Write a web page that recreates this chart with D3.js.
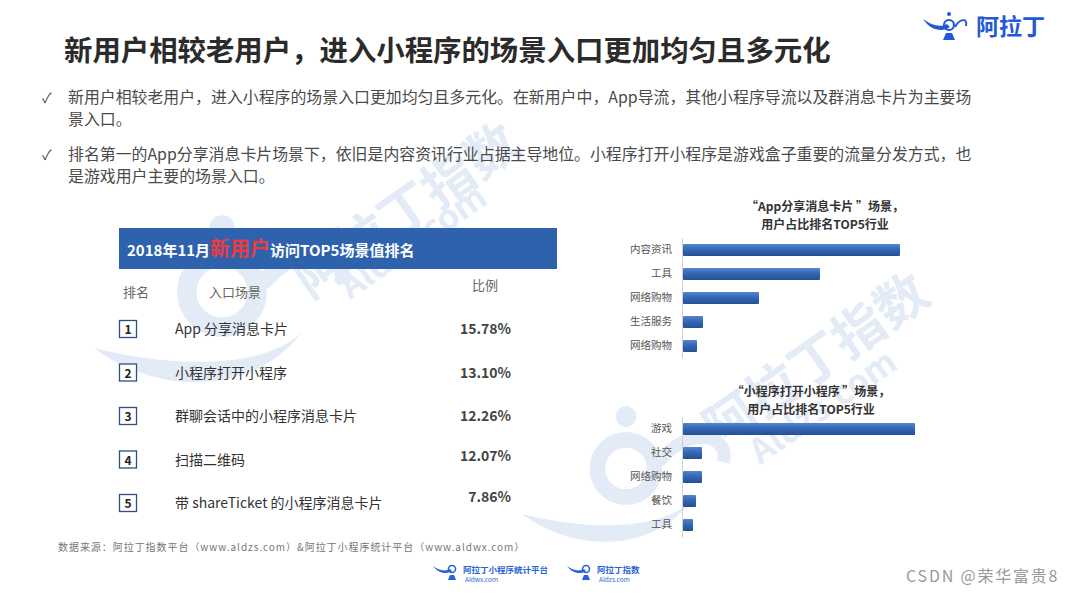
<!DOCTYPE html>
<html><head><meta charset="utf-8">
<script src="https://cdn.jsdelivr.net/npm/d3@7"></script>
<style>
html,body{margin:0;padding:0;background:#fff;}
svg{display:block;font-family:"Noto Sans CJK SC","Noto Sans",sans-serif;}
</style></head>
<body>
<svg id="c" width="1080" height="595"></svg>
<script>
// ---------- data ----------
const pageTitle = "新用户相较老用户，进入小程序的场景入口更加均匀且多元化";
const bulletLines = [
  ["新用户相较老用户，进入小程序的场景入口更加均匀且多元化。在新用户中，App导流，其他小程序导流以及群消息卡片为主要场", "景入口。"],
  ["排名第一的App分享消息卡片场景下，依旧是内容资讯行业占据主导地位。小程序打开小程序是游戏盒子重要的流量分发方式，也", "是游戏用户主要的场景入口。"]
];
const ranks = [1, 2, 3, 4, 5];
const scenes = ["App 分享消息卡片", "小程序打开小程序", "群聊会话中的小程序消息卡片", "扫描二维码", "带 shareTicket 的小程序消息卡片"];
const shares = ["15.78%", "13.10%", "12.26%", "12.07%", "7.86%"];

const chart1Title = ["“App分享消息卡片 ”场景，", "用户占比排名TOP5行业"];
const chart1Cats = ["内容资讯", "工具", "网络购物", "生活服务", "网络购物"];
const chart1Vals = [21.8, 13.8, 7.7, 2.1, 1.5];

const chart2Title = ["“小程序打开小程序 ”场景，", "用户占比排名TOP5行业"];
const chart2Cats = ["游戏", "社交", "网络购物", "餐饮", "工具"];
const chart2Vals = [23.3, 2.0, 2.0, 1.4, 1.1];

const sourceText = "数据来源：阿拉丁指数平台（www.aldzs.com）&阿拉丁小程序统计平台（www.aldwx.com）";

// ---------- drawing ----------
const svg = d3.select("#c");
const defs = svg.append("defs");
const g = defs.append("linearGradient").attr("id","barg").attr("x1",0).attr("y1",0).attr("x2",0).attr("y2",1);
g.append("stop").attr("offset","0%").attr("stop-color","#5585cf");
g.append("stop").attr("offset","45%").attr("stop-color","#3567b6");
g.append("stop").attr("offset","100%").attr("stop-color","#23508f");

// watermarks
const wmCol = "#e3ebf7";
const wm = svg.append("g").attr("fill",wmCol);
function swirl(x, y, s){
  const w = wm.append("g").attr("transform",`translate(${x},${y}) scale(${s})`);
  w.append("path").attr("d","M-60,30 C-20,60 40,60 70,20 C50,40 0,45 -60,30 Z");
  w.append("circle").attr("cx",20).attr("cy",-5).attr("r",22).attr("fill","none").attr("stroke",wmCol).attr("stroke-width",12);
  w.append("circle").attr("cx",20).attr("cy",-45).attr("r",8);
  w.append("path").attr("d","M45,-10 C70,-40 100,-30 95,-10").attr("fill","none").attr("stroke",wmCol).attr("stroke-width",10);
}
swirl(190, 300, 1.6);
swirl(600, 475, 1.3);
function wmText(x, y, t, size, rot){
  wm.append("text").attr("x",x).attr("y",y).attr("font-size",size).attr("font-weight","bold")
    .attr("transform",`rotate(${rot},${x},${y})`).text(t);
}
wmText(310, 300, "阿拉丁指数", 52, -35);
wmText(350, 300, "Aldzs.com", 34, -35);
wmText(720, 450, "阿拉丁指数", 52, -35);
wmText(760, 465, "Aldzs.com", 34, -35);

// title
svg.append("text").attr("x",64).attr("y",61).attr("font-size",28.4).attr("font-weight","bold")
  .attr("fill","#2b2b2b").text(pageTitle);

// top-right logo
const logo = svg.append("g").attr("fill","#2259d6");
logo.append("path").attr("d","M923,19 C930,30 942,33 950,27 L947,24 C940,28 931,25 923,19 Z");
logo.append("circle").attr("cx",949).attr("cy",25).attr("r",5).attr("fill","none").attr("stroke","#2259d6").attr("stroke-width",2.2);
logo.append("circle").attr("cx",949).attr("cy",14).attr("r",2);
logo.append("path").attr("d","M943,40 L955,40 L952,33 L946,33 Z");
logo.append("path").attr("d","M955,27 C960,18 968,18 966,26").attr("fill","none").attr("stroke","#2259d6").attr("stroke-width",2);
logo.append("text").attr("x",976).attr("y",35).attr("font-size",23).attr("font-weight","bold").text("阿拉丁");

// bullets
const bl = svg.append("g").attr("font-size",15.9).attr("fill","#4a4a4a");
const lineY = [[103,125],[160,182]];
bulletLines.forEach((lines,i)=>{
  bl.append("text").attr("x",42).attr("y",lineY[i][0]).attr("font-size",14).text("✓");
  lines.forEach((l,j)=>bl.append("text").attr("x",68).attr("y",lineY[i][j]).text(l));
});

// table header
svg.append("rect").attr("x",119).attr("y",228).attr("width",438).attr("height",41).attr("fill","#2f62ad");
const ht = svg.append("text").attr("x",127).attr("y",256).attr("font-weight","bold").attr("fill","#fff").attr("font-size",15);
ht.append("tspan").text("2018年11月");
ht.append("tspan").attr("fill","#f03a3e").attr("font-size",20).text("新用户");
ht.append("tspan").text("访问TOP5场景值排名");

const colH = svg.append("g").attr("font-size",13).attr("fill","#666");
colH.append("text").attr("x",123).attr("y",297).text("排名");
colH.append("text").attr("x",209).attr("y",297).text("入口场景");
colH.append("text").attr("x",472).attr("y",290).text("比例");

// table rows
const rowY = d3.scalePoint().domain(ranks).range([329, 503]);
const rows = svg.append("g").selectAll("g").data(ranks).join("g")
  .attr("transform",d=>`translate(0,${rowY(d)})`);
rows.append("rect").attr("x",119.5).attr("y",-8.5).attr("width",17).attr("height",17)
  .attr("fill","#fff").attr("stroke","#2f4f7f").attr("stroke-width",1.3);
rows.append("text").attr("x",128).attr("y",5).attr("text-anchor","middle").attr("font-size",12)
  .attr("font-weight","bold").attr("fill","#222").text(d=>d);
rows.append("text").attr("x",175).attr("y",5).attr("font-size",14).attr("fill","#333")
  .text((d,i)=>scenes[i]);
rows.append("text").attr("x",511).attr("y",(d,i)=> i===3?1:(i===4?-1:5)).attr("text-anchor","end")
  .attr("font-size",14).attr("font-weight","bold").attr("fill","#444").text((d,i)=>shares[i]);

// bar charts
const x = d3.scaleLinear().domain([0,25]).range([682, 932]);
function barChart(cats, vals, title, y0, y1, tY, tX){
  const grp = svg.append("g");
  const y = d3.scaleBand().domain(d3.range(cats.length)).range([y0,y1]).paddingInner(0.5).paddingOuter(0.25);
  title.forEach((t,i)=>grp.append("text").attr("x",tX).attr("y",tY+i*18).attr("text-anchor","middle")
    .attr("font-size",12).attr("font-weight","bold").attr("fill","#333").text(t));
  grp.selectAll("rect.b").data(vals).join("rect").attr("class","b")
    .attr("x",x(0)+1).attr("y",(d,i)=>y(i)).attr("height",y.bandwidth())
    .attr("width",d=>x(d)-x(0)-1).attr("fill","url(#barg)").attr("rx",1);
  const ax = grp.append("g").attr("transform",`translate(${x(0)},0)`)
    .call(d3.axisLeft(y).tickSize(0).tickPadding(10).tickFormat(i=>cats[i]));
  ax.select(".domain").attr("stroke","#d0d0d0");
  ax.selectAll("text").attr("font-size",10.5).attr("fill","#555")
    .attr("font-family","\"Noto Sans CJK SC\",sans-serif");
}
barChart(chart1Cats, chart1Vals, chart1Title, 238, 358, 211, 825);
barChart(chart2Cats, chart2Vals, chart2Title, 417, 537, 396, 811);

// footer
svg.append("text").attr("x",58).attr("y",551).attr("font-size",10).attr("letter-spacing",0.95)
  .attr("fill","#777").text(sourceText);
function miniLogo(x0, t, s){
  const m = svg.append("g").attr("fill","#2a63d6");
  m.append("path").attr("d",`M${x0},566 C${x0+5},573 ${x0+13},575 ${x0+19},571 L${x0+17},569 C${x0+12},572 ${x0+5},570 ${x0},566 Z`);
  m.append("circle").attr("cx",x0+19).attr("cy",569).attr("r",3.5).attr("fill","none").attr("stroke","#2a63d6").attr("stroke-width",1.6);
  m.append("path").attr("d",`M${x0+15},580 L${x0+23},580 L${x0+21},575 L${x0+17},575 Z`);
  m.append("text").attr("x",x0+30).attr("y",573).attr("font-size",8.5).attr("font-weight","bold").text(t);
  m.append("text").attr("x",x0+32).attr("y",582).attr("font-size",6.5).text(s);
}
miniLogo(433, "阿拉丁小程序统计平台", "Aldwx.com");
miniLogo(567, "阿拉丁指数", "Aldzs.com");

svg.append("text").attr("x",906).attr("y",582).attr("font-size",16).attr("letter-spacing",1.8).attr("fill","#9a9a9a")
  .attr("font-family","\"Noto Sans CJK SC\",sans-serif").text("CSDN @荣华富贵8");
</script>
</body></html>
